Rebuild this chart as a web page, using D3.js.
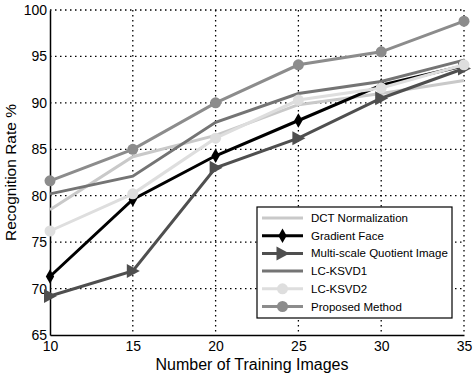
<!DOCTYPE html>
<html lang="en">
<head>
<meta charset="UTF-8">
<title>Recognition Rate</title>
<script src="https://d3js.org/d3.v7.min.js"></script>
<style>
  body { margin: 0; background: #fff; }
  svg { font-family: "Liberation Sans", Arial, sans-serif; }
</style>
</head>
<body>
<div id="chart"></div>
<script>
const trainImages = [10, 15, 20, 25, 30, 35];
const yTicks = [65, 70, 75, 80, 85, 90, 95, 100];

const dctNorm    = [78.5, 84.2, 86.5, 89.8, 91.0, 92.4];
const gradFace   = [71.3, 79.6, 84.3, 88.1, 91.9, 94.0];
const msqi       = [69.2, 71.9, 83.0, 86.2, 90.5, 93.7];
const lcksvd1    = [80.2, 82.1, 87.9, 91.0, 92.3, 94.6];
const lcksvd2    = [76.2, 80.2, 86.2, 90.3, 91.6, 94.1];
const proposed   = [81.6, 85.0, 90.0, 94.1, 95.5, 98.8];

const series = [
  {name: "DCT Normalization", values: dctNorm, color: "#c9c9c9", marker: null},
  {name: "Gradient Face", values: gradFace, color: "#000000", marker: "diamond"},
  {name: "Multi-scale Quotient Image", values: msqi, color: "#4f4f4f", marker: "triangle"},
  {name: "LC-KSVD1", values: lcksvd1, color: "#747474", marker: null},
  {name: "LC-KSVD2", values: lcksvd2, color: "#dedede", marker: "circle"},
  {name: "Proposed Method", values: proposed, color: "#8c8c8c", marker: "circle"}
];

const margin = {top: 10, right: 10, bottom: 41, left: 50};
const width = 474 - margin.left - margin.right;
const height = 376 - margin.top - margin.bottom;

const svg = d3.select("#chart").append("svg")
  .attr("width", 474)
  .attr("height", 376)
  .append("g")
  .attr("transform", `translate(${margin.left},${margin.top})`);

const x = d3.scaleLinear().domain([10, 35]).range([0, width]);
const y = d3.scaleLinear().domain([65, 100]).range([height, 0]);

// dotted grid
svg.append("g").selectAll("line")
  .data(trainImages.slice(1))
  .join("line")
  .attr("x1", d => x(d)).attr("x2", d => x(d))
  .attr("y1", 0).attr("y2", height)
  .attr("stroke", "#000").attr("stroke-width", 1.3)
  .attr("stroke-dasharray", "1.5,3.5");

svg.append("g").selectAll("line")
  .data(yTicks.slice(1))
  .join("line")
  .attr("x1", 0).attr("x2", width)
  .attr("y1", d => y(d)).attr("y2", d => y(d))
  .attr("stroke", "#000").attr("stroke-width", 1.3)
  .attr("stroke-dasharray", "1.5,3.5");

const xAxis = svg.append("g")
  .attr("transform", `translate(0,${height})`)
  .call(d3.axisBottom(x).tickValues(trainImages).tickSize(0).tickPadding(6));
const yAxis = svg.append("g")
  .call(d3.axisLeft(y).tickValues(yTicks).tickSize(0).tickPadding(3));

[xAxis, yAxis].forEach(a => {
  a.select(".domain").attr("stroke", "#000").attr("stroke-width", 1.5);
  a.selectAll("text").attr("font-size", "14px").attr("fill", "#000")
    .attr("font-family", "Liberation Sans, Arial, sans-serif");
});

svg.append("text")
  .attr("x", width / 2 - 5)
  .attr("y", height + 35)
  .attr("text-anchor", "middle")
  .attr("font-size", "16px")
  .text("Number of Training Images");

svg.append("text")
  .attr("transform", `translate(${-34},${height / 2}) rotate(-90)`)
  .attr("text-anchor", "middle")
  .attr("font-size", "15.5px")
  .text("Recognition Rate %");

const line = d3.line().x((d, i) => x(trainImages[i])).y(d => y(d));

function drawMarker(g, type, color) {
  if (type === "circle") {
    g.append("circle").attr("r", 5.5).attr("fill", color);
  } else if (type === "diamond") {
    g.append("path").attr("d", d3.symbol(d3.symbolDiamond, 60)()).attr("fill", color);
  } else if (type === "triangle") {
    g.append("path").attr("d", "M-6,-7 L7,0 L-6,7 Z").attr("fill", color);
  }
}

series.forEach(s => {
  svg.append("path")
    .datum(s.values)
    .attr("fill", "none")
    .attr("stroke", s.color)
    .attr("stroke-width", 3)
    .attr("d", line);
  if (s.marker) {
    s.values.forEach((v, i) => {
      const g = svg.append("g").attr("transform", `translate(${x(trainImages[i])},${y(v)})`);
      drawMarker(g, s.marker, s.color);
    });
  }
});

// legend
const legend = svg.append("g").attr("transform", `translate(${207},${197})`);
legend.append("rect")
  .attr("width", 195).attr("height", 111)
  .attr("fill", "#fff").attr("stroke", "#000").attr("stroke-width", 1.2);

series.forEach((s, i) => {
  const row = legend.append("g").attr("transform", `translate(0,${11 + i * 17.7})`);
  row.append("line")
    .attr("x1", 5).attr("x2", 46)
    .attr("stroke", s.color).attr("stroke-width", 3);
  if (s.marker) {
    const m = row.append("g").attr("transform", "translate(25.5,0)");
    drawMarker(m, s.marker, s.color);
  }
  row.append("text")
    .attr("x", 54).attr("y", 4)
    .attr("font-size", "11.5px")
    .text(s.name);
});
</script>
</body>
</html>
